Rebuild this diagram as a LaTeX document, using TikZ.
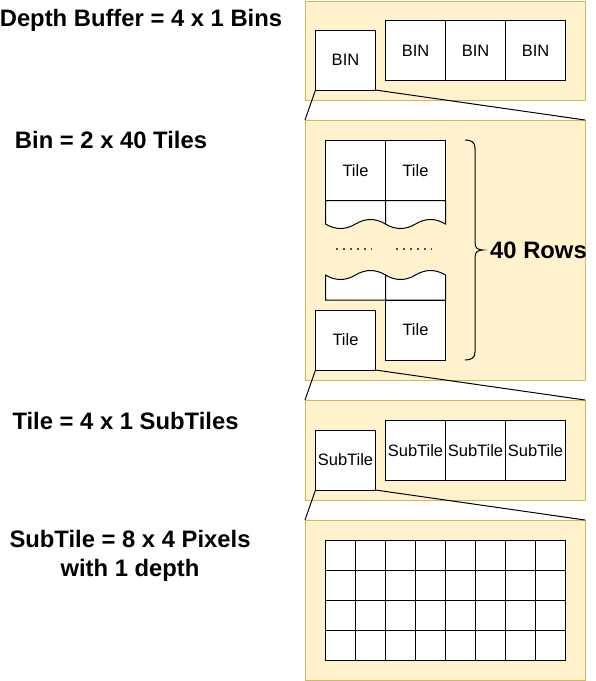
\documentclass[tikz,border=0pt]{standalone}
\usepackage{fontspec}
\setmainfont{Liberation Sans}
\usepackage{tikz}
\usetikzlibrary{positioning}
\definecolor{panelfill}{HTML}{FFF2CC}
\definecolor{paneldraw}{HTML}{D6B656}

\begin{document}
\begin{tikzpicture}[
    x=1pt, y=-1pt,
    panel/.style={rectangle, draw=paneldraw, fill=panelfill, line width=1pt, minimum width=280pt, inner sep=0pt, outer sep=0pt},
    cell/.style={rectangle, draw=black, fill=white, line width=1pt, minimum width=60pt, minimum height=60pt, inner sep=0pt, outer sep=0pt, font=\fontsize{16.5}{19}\selectfont},
    pixel/.style={rectangle, draw=black, fill=white, line width=1pt, minimum size=30pt, inner sep=0pt, outer sep=0pt},
    docpart/.style={draw=black, fill=white, line width=1pt},
    levellabel/.style={font=\bfseries\fontsize{23.8}{28.5}\selectfont, align=center, inner sep=0pt},
    zoomline/.style={draw=black, line width=1pt},
    dotline/.style={draw=black!70, line width=1.5pt, dash pattern=on 1.5pt off 5.5pt},
    bracket/.style={draw=black, line width=1pt},
]
    \useasboundingbox (0,0) rectangle (596,681);

    \node[panel, minimum height=99pt] (dbpanel) at (445,50.5) {};
    \node[panel, minimum height=260pt] (binpanel) at (445,250) {};
    \node[panel, minimum height=100pt] (tilepanel) at (445,450) {};
    \node[panel, minimum height=160pt] (subpanel) at (445,600) {};

    \node[levellabel] (dblabel) at (141,20) {Depth Buffer = 4 x 1 Bins};
    \node[levellabel] (binlabel) at (111,140) {Bin = 2 x 40 Tiles};
    \node[levellabel] (tilelabel) at (125.5,420.5) {Tile = 4 x 1 SubTiles};
    \node[levellabel] (sublabel) at (130,556) {SubTile = 8 x 4 Pixels\\with 1 depth};

    \node[cell] (bin) at (345.5,60) {BIN};
    \node[cell] (binA) at (415.5,50.5) {BIN};
    \node[cell, right=0pt of binA] (binB) {BIN};
    \node[cell, right=0pt of binB] (binC) {BIN};

    \node[cell] (tileA) at (355.5,170.5) {Tile};
    \node[cell, right=0pt of tileA] (tileB) {Tile};
    \foreach \x in {325.5,385.5} {
        \draw[docpart] (\x,200.5) -- (\x,224) .. controls (\x+10,230) and (\x+20,230) .. (\x+30,224)
            .. controls (\x+40,218) and (\x+50,218) .. (\x+60,224) -- (\x+60,200.5) -- cycle;
        \draw[docpart] (\x,300) -- (\x,275) .. controls (\x+10,281) and (\x+20,281) .. (\x+30,275)
            .. controls (\x+40,269) and (\x+50,269) .. (\x+60,275) -- (\x+60,300) -- cycle;
    }
    \draw[dotline] (336,249) -- (372,249);
    \draw[dotline] (396,249) -- (432,249);
    \node[cell] (tileD) at (415.5,330) {Tile};
    \node[cell] (tile) at (345.5,340) {Tile};

    \draw[bracket] (465,140) .. controls (471,140) and (475,142) .. (475,148) -- (475,243)
        .. controls (475,248) and (478,250) .. (483,250) .. controls (478,250) and (475,252) .. (475,257)
        -- (475,352) .. controls (475,358) and (471,360) .. (465,360);
    \node[levellabel, anchor=west] (rows) at (490,250) {40 Rows};

    \node[cell] (sub) at (345.5,460) {SubTile};
    \node[cell] (subA) at (415.5,450.5) {SubTile};
    \node[cell, right=0pt of subA] (subB) {SubTile};
    \node[cell, right=0pt of subB] (subC) {SubTile};

    \foreach \c in {0,...,7} {
        \foreach \r in {0,...,3} {
            \node[pixel] (px\c\r) at (340.5+30*\c,555.5+30*\r) {};
        }
    }

    \draw[zoomline] (bin.south west) -- (binpanel.north west);
    \draw[zoomline] (bin.south east) -- (binpanel.north east);
    \draw[zoomline] (tile.south west) -- (tilepanel.north west);
    \draw[zoomline] (tile.south east) -- (tilepanel.north east);
    \draw[zoomline] (sub.south west) -- (subpanel.north west);
    \draw[zoomline] (sub.south east) -- (subpanel.north east);
\end{tikzpicture}
\end{document}
